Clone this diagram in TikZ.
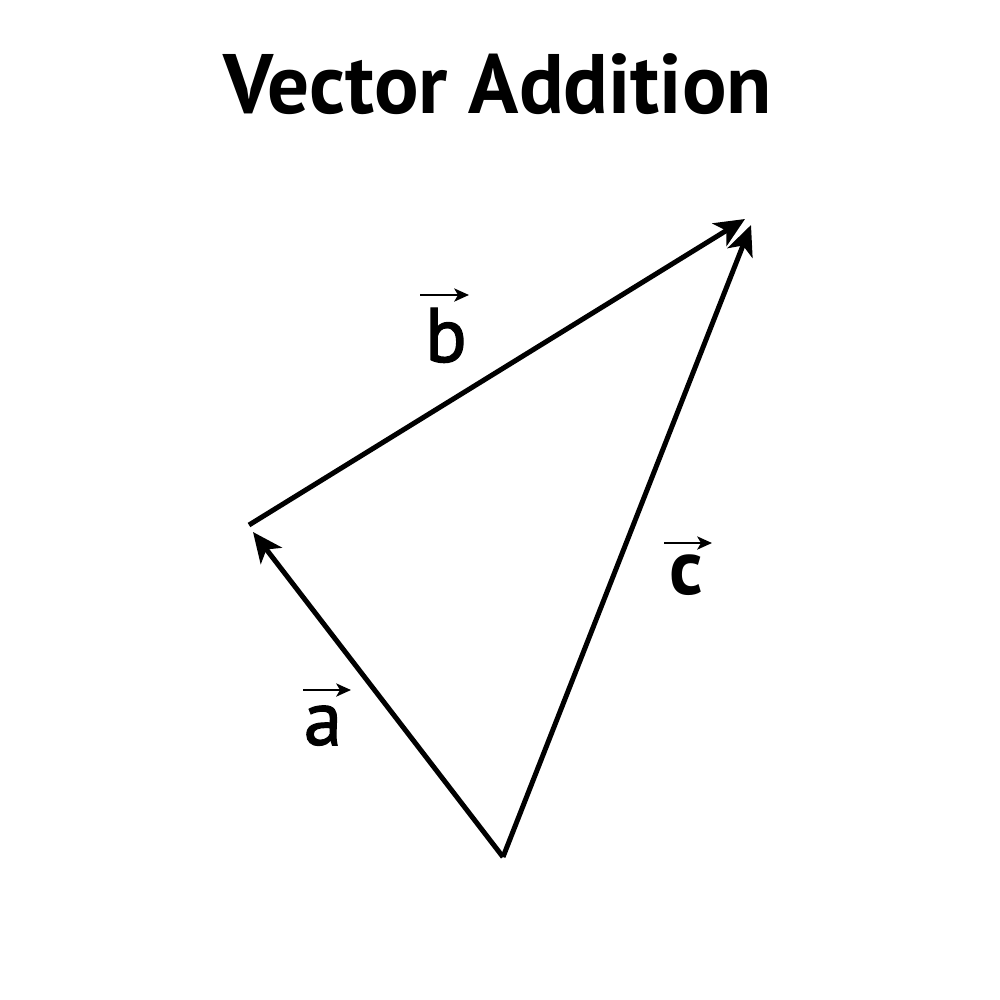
\documentclass[tikz,border=0pt]{standalone}
\usepackage{fontspec}
\setmainfont{PT Sans}
\newfontfamily\medfont[FakeBold=1.6]{PT Sans}
\usetikzlibrary{arrows.meta}
\tikzset{
  vec/.style={line width=1.5mm, -{Stealth[length=9mm,width=8mm,inset=2.4mm]}},
  lbl/.style={inner sep=0pt, font=\medfont\fontsize{66}{66}\selectfont},
  over/.style={line width=0.85mm, -{Stealth[length=4.4mm,width=3.9mm,inset=1.1mm]}},
  title/.style={inner sep=0pt, font=\bfseries\fontsize{72}{72}\selectfont}
}
\begin{document}
\begin{tikzpicture}[x=0.3mm,y=-0.3mm]
\useasboundingbox (0,0) rectangle (1000,1000);
\node[title, anchor=base] (t) at (498,113) {\scalebox{0.985}[1]{Vector Addition}};
\coordinate (P) at (503,857);
\coordinate (A) at (253,532);
\coordinate (B0) at (249,525);
\coordinate (B) at (745,219);
\coordinate (C) at (751,225);
\draw[vec] (P) -- (A);
\draw[vec] (B0) -- (B);
\draw[vec] (P) -- (C);
% labels
\node[lbl, anchor=base] (la) at (323,745) {a};
\coordinate (la1) at (303,690); \coordinate (la2) at (351,690);
\draw[over] (la1) -- (la2);
\node[lbl, anchor=base] (lb) at (446,362) {b};
\coordinate (lb1) at (420,295); \coordinate (lb2) at (469,295);
\draw[over] (lb1) -- (lb2);
\node[lbl, anchor=base, font=\bfseries\fontsize{66}{66}\selectfont] (lc) at (686,594) {c};
\coordinate (lc1) at (664,543); \coordinate (lc2) at (712,543);
\draw[over] (lc1) -- (lc2);
\end{tikzpicture}
\end{document}
